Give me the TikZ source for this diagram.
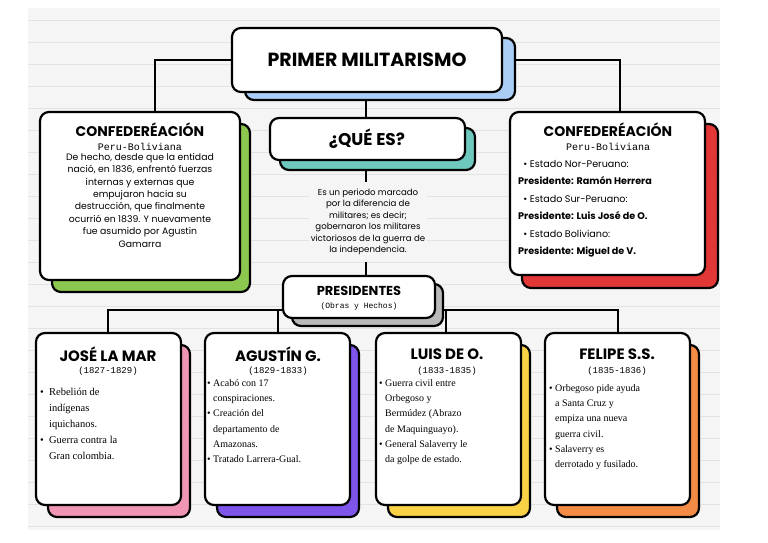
\documentclass[tikz,border=0pt]{standalone}
\usepackage{fontspec}
\setmainfont{Liberation Serif}
\newfontfamily\hand{Poppins}
\newfontfamily\monof{Liberation Mono}
\definecolor{cblue}{RGB}{170,205,245}
\definecolor{cgreen}{RGB}{140,200,80}
\definecolor{cteal}{RGB}{110,200,190}
\definecolor{cred}{RGB}{225,55,55}
\definecolor{cpink}{RGB}{240,150,180}
\definecolor{cpurp}{RGB}{125,85,235}
\definecolor{cyell}{RGB}{250,210,70}
\definecolor{corng}{RGB}{245,140,70}
\begin{document}
\begin{tikzpicture}[x=1pt,y=-1pt,
  card/.style={draw=black,line width=2.2pt,rounded corners=9pt,fill=white},
  shad/.style={draw=black,line width=2.2pt,rounded corners=9pt},
  conn/.style={draw=black,line width=1.6pt},
  ttl/.style={font=\hand\bfseries\fontsize{15}{17}\selectfont,inner sep=0pt},
  sub/.style={font=\monof\fontsize{9}{10}\selectfont,inner sep=0pt},
  body/.style={font=\hand\fontsize{9.3}{12.4}\selectfont,align=center,inner sep=0pt},
  bul/.style={font=\fontsize{10.5}{16}\selectfont,align=left,inner sep=0pt,anchor=north west}]
\useasboundingbox (0,0) rectangle (768,543);
\fill[white] (0,0) rectangle (768,543);
\fill[gray!8] (28,8) rectangle (720,530);
\foreach \yy in {20,42,...,530} \draw[gray!22,line width=0.6pt] (28,\yy) -- (720,\yy);
% connectors
\coordinate (tl) at (155,60); \coordinate (tr) at (620,60);
\draw[conn] (155,112) -- (tl) -- (366,60) -- (366,118);
\draw[conn] (366,60) -- (tr) -- (620,112);
\draw[conn] (366,160) -- (366,182);
\draw[conn] (366,262) -- (366,278);
\draw[conn] (108,333) -- (108,310) -- (618,310) -- (618,333);
\draw[conn] (278,310) -- (278,333);
\draw[conn] (446,310) -- (446,333);
% title
\draw[shad,fill=cblue] (245,38) rectangle (515,100);
\draw[card] (232,28) rectangle (502,92);
\node[ttl,font=\hand\bfseries\fontsize{19}{21}\selectfont] (title) at (367,60) {PRIMER MILITARISMO};
% left confed
\draw[shad,fill=cgreen] (52,124) rectangle (250,292);
\draw[card] (40,112) rectangle (240,280);
\node[ttl,font=\hand\bfseries\fontsize{14}{16}\selectfont] (lc) at (140,130) {CONFEDERÉACIÓN};
\node[sub,font=\monof\fontsize{10}{11}\selectfont] (lcs) at (140,147) {Peru-Boliviana};
\node[body,anchor=north] (lcb) at (140,153) {De hecho, desde que la entidad\\naci\'o, en 1836, enfrent\'o fuerzas\\internas y externas que\\empujaron hacia su\\destrucci\'on, que finalmente\\ocurri\'o en 1839. Y nuevamente\\fue asumido por Agustin\\Gamarra};
% que es
\draw[shad,fill=cteal] (280,128) rectangle (475,170);
\draw[card] (270,118) rectangle (465,160);
\node[ttl,font=\hand\bfseries\fontsize{17}{19}\selectfont] (qe) at (367,139) {¿QUÉ ES?};
\node[body,font=\hand\fontsize{8.6}{11.5}\selectfont,fill=gray!8,inner sep=2pt] (qet) at (368,222) {Es un periodo marcado\\por la diferencia de\\militares; es decir;\\gobernaron los militares\\victoriosos de la guerra de\\la independencia.};
% presidentes
\draw[shad,fill=gray!55] (292,284) rectangle (443,326);
\draw[card] (283,276) rectangle (435,318);
\node[ttl,font=\hand\bfseries\fontsize{13}{15}\selectfont] (pr) at (359,291) {PRESIDENTES};
\node[sub,font=\monof\fontsize{8}{9}\selectfont] (prs) at (359,306) {(Obras y Hechos)};
% right confed
\draw[shad,fill=cred] (522,124) rectangle (718,288);
\draw[card] (510,112) rectangle (705,275);
\node[ttl,font=\hand\bfseries\fontsize{14}{16}\selectfont] (rc) at (608,130) {CONFEDERÉACIÓN};
\node[sub,font=\monof\fontsize{10}{11}\selectfont] (rcs) at (608,147) {Peru-Boliviana};
\node[body,align=left,anchor=north west,font=\hand\fontsize{9.6}{17.5}\selectfont] (rcb) at (518,160)
 {\ \ \textbullet\ Estado Nor-Peruano:\\\textbf{Presidente: Ramón Herrera}\\\ \ \textbullet\ Estado Sur-Peruano:\\\textbf{Presidente: Luis José de O.}\\\ \ \textbullet\ Estado Boliviano:\\\textbf{Presidente: Miguel de V.}};
% bottom cards
\foreach \xa/\col in {36/cpink, 205/cpurp, 376/cyell, 545/corng}
{ \draw[shad,fill=\col] (\xa+12,345) rectangle (\xa+154,517);
  \draw[card] (\xa,333) rectangle (\xa+145,505); }
\node[ttl] (c1) at (108,354) {JOSÉ LA MAR};
\node[sub] (c1s) at (108,371) {(1827-1829)};
\node[bul] (c1b) at (40,388) {\textbullet\ \ Rebelión de\\\phantom{\textbullet\ \ }indígenas\\\phantom{\textbullet\ \ }iquichanos.\\\textbullet\ \ Guerra contra la\\\phantom{\textbullet\ \ }Gran colombia.};
\node[ttl] (c2) at (278,354) {AGUSTÍN G.};
\node[sub] (c2s) at (278,371) {(1829-1833)};
\node[bul,font=\fontsize{10}{15.3}\selectfont] (c2b) at (207,379) {\textbullet\ Acabó con 17\\\phantom{\textbullet\ }conspiraciones.\\\textbullet\ Creación del\\\phantom{\textbullet\ }departamento de\\\phantom{\textbullet\ }Amazonas.\\\textbullet\ Tratado Larrera-Gual.};
\node[ttl] (c3) at (447,354) {LUIS DE O.};
\node[sub] (c3s) at (447,371) {(1833-1835)};
\node[bul,font=\fontsize{10}{15.3}\selectfont] (c3b) at (379,379) {\textbullet\ Guerra civil entre\\\phantom{\textbullet\ }Orbegoso y\\\phantom{\textbullet\ }Bermúdez (Abrazo\\\phantom{\textbullet\ }de Maquinguayo).\\\textbullet\ General Salaverry le\\\phantom{\textbullet\ }da golpe de estado.};
\node[ttl] (c4) at (617,354) {FELIPE S.S.};
\node[sub] (c4s) at (617,371) {(1835-1836)};
\node[bul,font=\fontsize{10}{15.3}\selectfont] (c4b) at (549,384) {\textbullet\ Orbegoso pide ayuda\\\phantom{\textbullet\ }a Santa Cruz y\\\phantom{\textbullet\ }empiza una nueva\\\phantom{\textbullet\ }guerra civil.\\\textbullet\ Salaverry es\\\phantom{\textbullet\ }derrotado y fusilado.};
\end{tikzpicture}
\end{document}
